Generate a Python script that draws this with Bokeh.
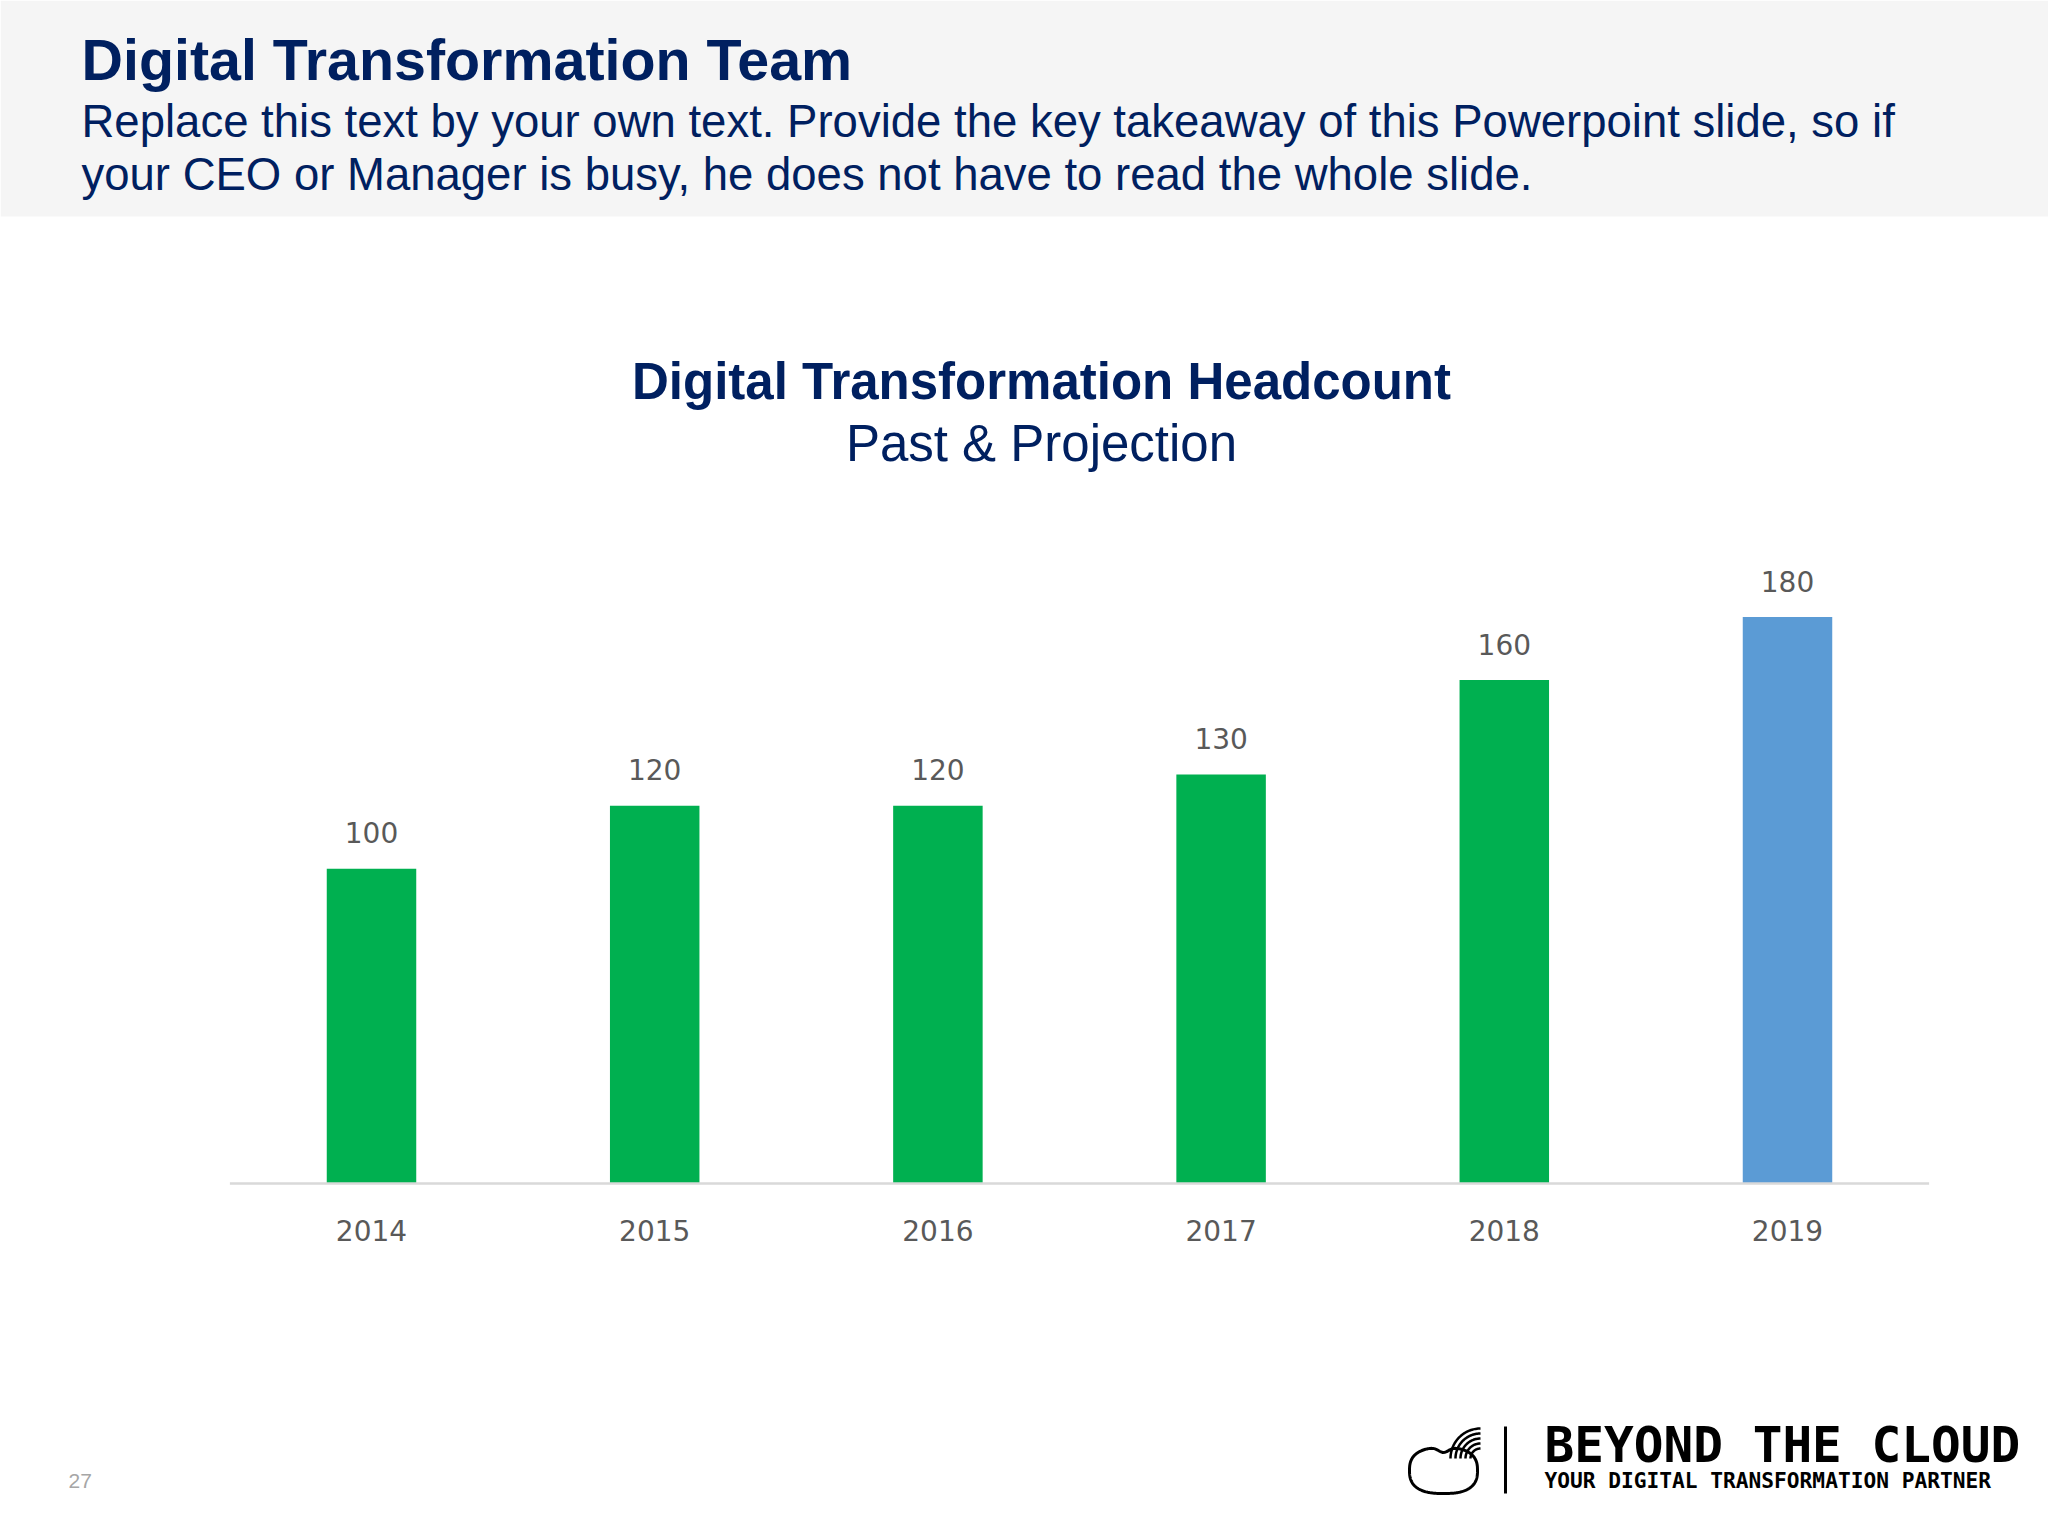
import numpy as np
from bokeh.plotting import figure
from bokeh.models import Range1d, Label, ColumnDataSource
from bokeh.core.properties import value
from bokeh.embed import file_html
from bokeh.resources import INLINE

# ---- data -------------------------------------------------------------
years = ["2014", "2015", "2016", "2017", "2018", "2019"]
headcount = [100, 120, 120, 130, 160, 180]
projected = [False, False, False, False, False, True]

slide_title = "Digital Transformation Team"
slide_text = [
    "Replace this text by your own text. Provide the key takeaway of this Powerpoint slide, so if",
    "your CEO or Manager is busy, he does not have to read the whole slide.",
]
chart_title = "Digital Transformation Headcount"
chart_subtitle = "Past & Projection"
page_number = "27"
brand = "BEYOND THE CLOUD"
brand_tagline = "YOUR DIGITAL TRANSFORMATION PARTNER"

# ---- page / chart geometry (pixels) ----------------------------------
W, H = 2048, 1536
NAVY = "#002060"
PAST_COLOR = "#00b050"
PROJ_COLOR = "#5b9bd5"
LABEL_GREY = "#595959"
BASELINE_SHIFT = 0.39  # em correction so that y lands on the text baseline

slot = 283.2          # width of one category slot
first_center = 371.0  # centre of the first category
baseline_px = 1183.0  # y of the category axis, from the top
px_per_unit = 3.147   # vertical scale of the bars

x_range = Range1d(-first_center / slot, (W - first_center) / slot)
y_range = Range1d(-(H - baseline_px) / px_per_unit, baseline_px / px_per_unit)

p = figure(width=W, height=H, x_range=x_range, y_range=y_range,
           x_axis_location=None, y_axis_location=None,
           min_border=0, toolbar_location=None, output_backend="svg")
p.outline_line_color = None
p.background_fill_color = "white"
p.border_fill_color = "white"
p.grid.visible = False

# page-pixel coordinate system for the slide decorations
p.extra_x_ranges = {"page": Range1d(0, W)}
p.extra_y_ranges = {"page": Range1d(H, 0)}
PG = dict(x_range_name="page", y_range_name="page")

# header band
p.quad(left=0, right=W, top=0, bottom=216, fill_color="#f5f5f5", line_color=None, **PG)

def page_label(x, y, text, size, color=NAVY, style="normal", font="Liberation Sans", align="left"):
    p.add_layout(Label(x=x, y=y - BASELINE_SHIFT * size, text=text, text_font=font,
                       text_font_size=f"{size}px", text_font_style=style,
                       text_color=color, text_align=align,
                       text_baseline="alphabetic", **PG))

page_label(81, 82, slide_title, 57.4, style="bold")
page_label(81, 139, slide_text[0], 45.5)
page_label(81, 192, slide_text[1], 45.5)

page_label(1041, 401, chart_title, 51, style="bold", align="center")
page_label(1041, 463, chart_subtitle, 51, align="center")

page_label(68, 1489, page_number, 21, color="#a6a6a6")

# ---- bars -------------------------------------------------------------
idx = list(range(len(years)))
src = ColumnDataSource(dict(
    x=idx,
    top=headcount,
    year=years,
    label=[str(v) for v in headcount],
    color=[PROJ_COLOR if f else PAST_COLOR for f in projected],
))

p.vbar(x="x", top="top", bottom=0, width=0.316, fill_color="color", line_color=None, source=src)
p.line(x=[-0.5, len(years) - 0.5], y=[0, 0], line_color="#d9d9d9", line_width=2.5)

LBL = 28
shift = BASELINE_SHIFT * LBL
p.text(x="x", y="top", text="label", source=src, text_align="center",
       text_baseline="alphabetic", y_offset=-25 - shift, text_font=value("DejaVu Sans"),
       text_font_size=f"{LBL}px", text_color=LABEL_GREY)
p.text(x="x", y=0, text="year", source=src, text_align="center",
       text_baseline="alphabetic", y_offset=58 - shift, text_font=value("DejaVu Sans"),
       text_font_size=f"{LBL}px", text_color=LABEL_GREY)

# ---- brand mark -------------------------------------------------------
cx, cy, a, b, n = 1443.0, 1470.0, 34.0, 23.0, 2.6
t = np.linspace(0, 2 * np.pi, 240)
ax = cx + a * np.sign(np.cos(t)) * np.abs(np.cos(t)) ** (2 / n)
ay = cy + b * np.sign(np.sin(t)) * np.abs(np.sin(t)) ** (2 / n)
ay = ay + np.where(np.sin(t) < 0, 5 * np.exp(-((ax - cx) / 7) ** 2), 0)
p.patch(ax, ay, fill_color="white", line_color="black", line_width=3, **PG)

theta = np.linspace(np.pi, 1.5 * np.pi, 40)
arc_x, arc_y = [], []
for r in (10, 15, 20, 25, 30):
    arc_x.append(list(1480 + r * np.cos(theta)))
    arc_y.append(list(1458 + r * np.sin(theta)))
p.multi_line(arc_x, arc_y, line_color="black", line_width=2.5, **PG)

p.line(x=[1505, 1505], y=[1426, 1493], line_color="black", line_width=3, **PG)
page_label(1544, 1464, brand, 49.4, color="black", style="bold", font="DejaVu Sans Mono")
page_label(1544, 1488, brand_tagline, 21.2, color="black", style="bold", font="DejaVu Sans Mono")

open("out.html", "w").write(file_html(p, INLINE))
